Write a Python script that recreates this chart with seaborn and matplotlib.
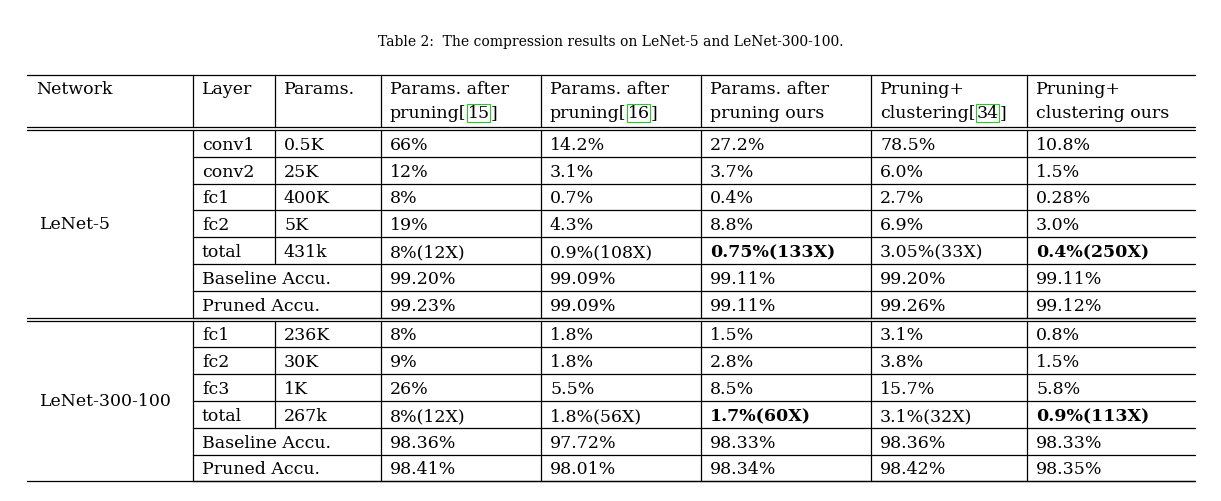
import matplotlib
matplotlib.use("Agg")
import matplotlib.pyplot as plt
import seaborn as sns

sns.set_theme(style="white")
plt.rcParams['font.family'] = ['DejaVu Serif']
plt.rcParams['text.color'] = 'black'

title = "Table 2:  The compression results on LeNet-5 and LeNet-300-100."
headers = [["Network"], ["Layer"], ["Params."], ["Params. after", "pruning[15]"],
           ["Params. after", "pruning[16]"], ["Params. after", "pruning ours"],
           ["Pruning+", "clustering[34]"], ["Pruning+", "clustering ours"]]

nets = ["LeNet-5", "LeNet-300-100"]
layers = [["conv1", "conv2", "fc1", "fc2", "total"], ["fc1", "fc2", "fc3", "total"]]
params = [["0.5K", "25K", "400K", "5K", "431k"], ["236K", "30K", "1K", "267k"]]
acc_labels = ["Baseline Accu.", "Pruned Accu."]
results = [
    [["66%", "14.2%", "27.2%", "78.5%", "10.8%"],
     ["12%", "3.1%", "3.7%", "6.0%", "1.5%"],
     ["8%", "0.7%", "0.4%", "2.7%", "0.28%"],
     ["19%", "4.3%", "8.8%", "6.9%", "3.0%"],
     ["8%(12X)", "0.9%(108X)", "0.75%(133X)", "3.05%(33X)", "0.4%(250X)"],
     ["99.20%", "99.09%", "99.11%", "99.20%", "99.11%"],
     ["99.23%", "99.09%", "99.11%", "99.26%", "99.12%"]],
    [["8%", "1.8%", "1.5%", "3.1%", "0.8%"],
     ["9%", "1.8%", "2.8%", "3.8%", "1.5%"],
     ["26%", "5.5%", "8.5%", "15.7%", "5.8%"],
     ["8%(12X)", "1.8%(56X)", "1.7%(60X)", "3.1%(32X)", "0.9%(113X)"],
     ["98.36%", "97.72%", "98.33%", "98.36%", "98.33%"],
     ["98.41%", "98.01%", "98.34%", "98.42%", "98.35%"]],
]
bold_cols = [2, 4]  # bold in the "total" row

W, H = 1221, 502
fig = plt.figure(figsize=(W / 100, H / 100), dpi=100)
ax = fig.add_axes([0, 0, 1, 1])
ax.set_xlim(0, W)
ax.set_ylim(H, 0)
ax.axis("off")
renderer = fig.canvas.get_renderer()

xs = [27, 193, 275, 381, 541, 701, 871, 1027, 1195]
fs = 12.5
lw = 0.9
pad = 9

def hline(y, x0=xs[0], x1=xs[-1]):
    ax.plot([x0, x1], [y, y], color="black", lw=lw)

def vline(x, y0, y1):
    ax.plot([x, x], [y0, y1], color="black", lw=lw)

def txt(x, y, s, bold=False, ha="left"):
    return ax.text(x, y, s, fontsize=fs, va="center", ha=ha,
                   fontweight="bold" if bold else "normal")

def right_edge(t):
    # x position (data units) of a text's right edge
    bb = t.get_window_extent(renderer)
    return ax.transData.inverted().transform((bb.x1, bb.y0))[0]

ax.text(W / 2, 42, title, fontsize=10, ha="center", va="center")

top = 76
hline(top)
hdr_bot = 128
for i, h in enumerate(headers):
    for j, line in enumerate(h):
        yy = 89 + j * 25
        if "[" in line:
            pre, ref = line.split("[")
            t = txt(xs[i] + pad, yy, pre + "[")
            t2 = ax.text(right_edge(t) + 1, yy, ref[:-1], fontsize=fs, va="center",
                         bbox=dict(fc="none", ec="#22cc22", lw=0.8, pad=0.5))
            txt(right_edge(t2) + 1, yy, "]")
        else:
            txt(xs[i] + pad, yy, line)
for x in xs[1:-1]:
    vline(x, top, hdr_bot)
hline(hdr_bot)
hline(hdr_bot + 3)

rh = 26.8
y = hdr_bot + 3
for s in range(2):
    nl = len(layers[s])
    nrows = nl + 2
    y0 = y
    for r in range(nrows):
        ya, yb = y + r * rh, y + (r + 1) * rh
        yc = (ya + yb) / 2 + 1
        if r < nl:
            txt(xs[1] + pad, yc, layers[s][r])
            txt(xs[2] + pad, yc, params[s][r])
            vline(xs[2], ya, yb)
        else:
            txt(xs[1] + pad, yc, acc_labels[r - nl])
        for c, v in enumerate(results[s][r]):
            txt(xs[3 + c] + pad, yc, v, bold=(r == nl - 1 and c in bold_cols))
        hline(yb, xs[1], xs[-1])
    y1 = y + nrows * rh
    txt(xs[0] + 13, (y0 + y1) / 2, nets[s])
    for x in [xs[1]] + xs[3:-1]:
        vline(x, y0, y1)
    hline(y1)
    if s == 0:
        hline(y1 + 3)
        y = y1 + 3

fig.savefig("out.png", dpi=100, facecolor="white")
